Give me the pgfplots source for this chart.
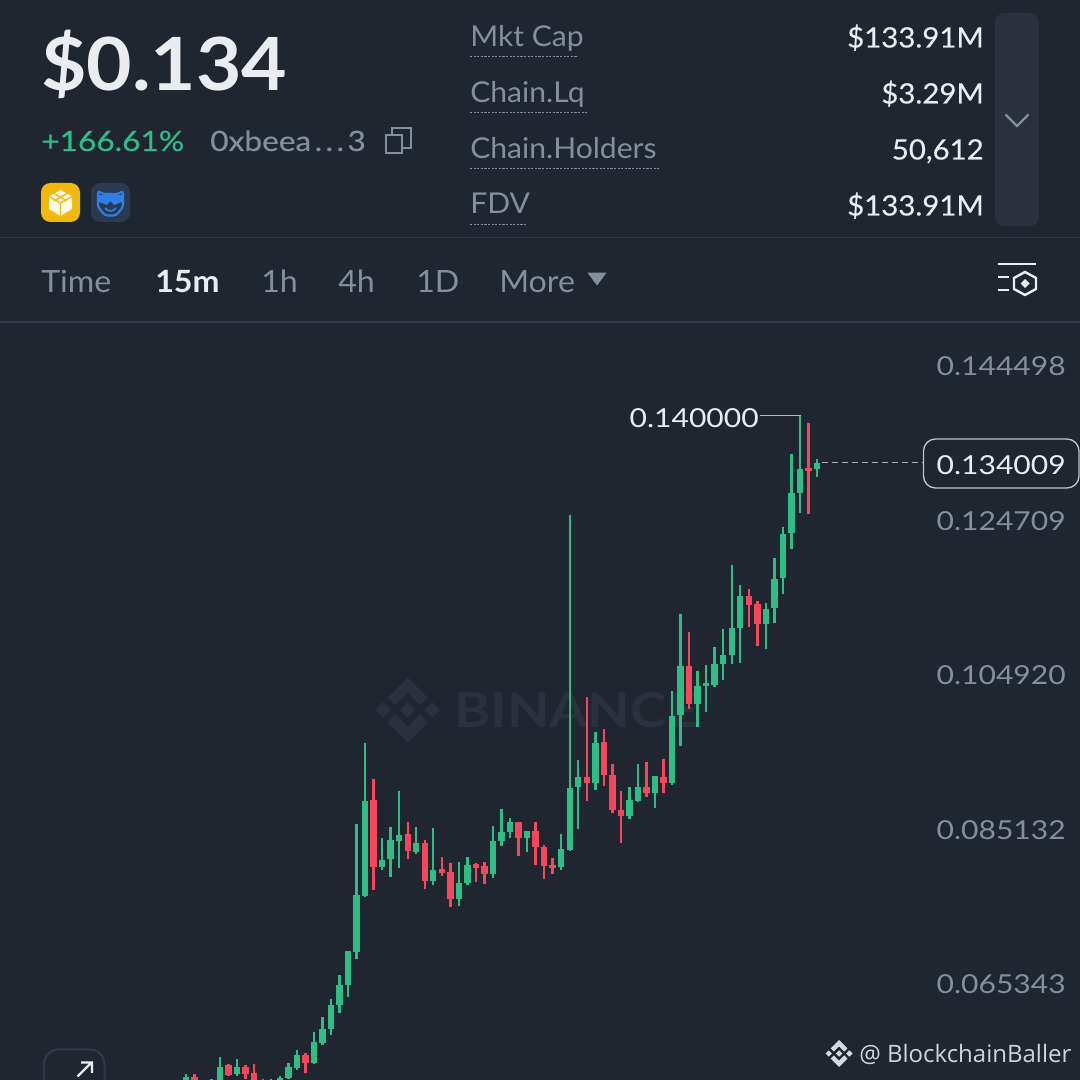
\documentclass[border=0pt]{standalone}
\usepackage{fontspec}
\usepackage{pgfplots}
\usepackage{pgfplotstable}
\pgfplotsset{compat=1.18}
\setmainfont{Lato}
\newfontfamily\wm{Open Sans}
\newfontfamily\st[FakeStretch=1.15]{Lato}
\newfontfamily\sn[FakeStretch=1.05]{Lato}
\newfontfamily\snm[FakeStretch=1.05,FakeBold=0.35]{Lato}
\newfontfamily\stm[FakeStretch=1.13,FakeBold=0.35]{Lato}
\newfontfamily\hd[FakeStretch=1.07]{Lato}
\definecolor{bg}{HTML}{1F2630}
\definecolor{up}{HTML}{2EBD85}
\definecolor{dn}{HTML}{F6465D}
\definecolor{txt}{HTML}{EAECEF}
\definecolor{gry}{HTML}{848E9C}
\definecolor{pill}{HTML}{2B313C}
\definecolor{div}{HTML}{333944}
\definecolor{bnb}{HTML}{F0B90B}
\definecolor{maskbg}{HTML}{2B3A50}
\definecolor{maskfg}{HTML}{2E7FE8}
\newcommand\fs[1]{\fontsize{#1}{#1}\selectfont}
% i high bodytop bodybottom low
\pgfplotstableread{
i h t b l
0 0.055722 0.055338 0.054697 0.054441
3 0.055082 0.054826 0.054441 0.054313
4 0.057938 0.056657 0.054697 0.054441
6 0.057643 0.056657 0.055722 0.055530
10 0.055082 0.054826 0.054441 0.054313
11 0.055466 0.055274 0.054569 0.054441
12 0.057131 0.056580 0.055210 0.055082
13 0.058796 0.058194 0.056452 0.056234
15 0.061101 0.059757 0.057169 0.057067
16 0.063061 0.061447 0.059654 0.059500
17 0.065290 0.064521 0.061447 0.060679
18 0.068364 0.067160 0.064521 0.063573
19 0.071476 0.071476 0.067160 0.065623
20 0.087742 0.078648 0.071386 0.070413
21 0.098078 0.090688 0.078559 0.078431
23 0.085911 0.083093 0.082235 0.081889
24 0.087396 0.085693 0.083259 0.080915
25 0.091969 0.086295 0.085526 0.082145
27 0.087358 0.085270 0.084194 0.083938
29 0.087191 0.081850 0.080442 0.079968
32 0.082913 0.080185 0.078098 0.077201
33 0.083477 0.082491 0.080185 0.079929
36 0.087524 0.085565 0.081377 0.080864
37 0.089702 0.086756 0.085565 0.084963
38 0.088511 0.087998 0.086679 0.085987
40 0.086884 0.086846 0.085949 0.084194
44 0.086461 0.084540 0.082273 0.081889
45 0.127319 0.092353 0.084450 0.084322
46 0.095978 0.093800 0.092443 0.087063
48 0.099564 0.098117 0.092993 0.092097
52 0.092417 0.090752 0.088741 0.088382
53 0.095363 0.092455 0.090714 0.090598
55 0.093928 0.093890 0.091674 0.089791
57 0.104738 0.101575 0.092955 0.092699
58 0.114677 0.107940 0.101664 0.097771
60 0.107377 0.105379 0.103150 0.100127
61 0.108068 0.105763 0.105417 0.102048
62 0.110374 0.108273 0.105584 0.105327
63 0.112718 0.109349 0.108273 0.106147
64 0.120915 0.112846 0.109388 0.108273
65 0.118315 0.116906 0.112846 0.108402
68 0.116009 0.115279 0.113358 0.110118
69 0.121850 0.119083 0.115369 0.113525
70 0.125782 0.124924 0.119211 0.117239
71 0.135093 0.130137 0.124975 0.122926
72 0.140000 0.133249 0.130098 0.127575
74 0.134453 0.134009 0.133249 0.132225
}\upt
\pgfplotstableread{
i h t b l
1 0.055722 0.055338 0.054697 0.054441
5 0.057003 0.056875 0.055594 0.055466
7 0.056875 0.056619 0.055722 0.055120
8 0.056964 0.055812 0.054569 0.054441
9 0.055018 0.054954 0.054441 0.054313
14 0.058373 0.058194 0.057093 0.055850
22 0.093467 0.090778 0.082235 0.079289
26 0.087960 0.086461 0.084220 0.083195
28 0.085731 0.085309 0.080442 0.079455
30 0.083477 0.081978 0.081505 0.081043
31 0.082785 0.081556 0.078098 0.077073
34 0.082709 0.082580 0.082145 0.080313
35 0.082875 0.082324 0.081377 0.080019
39 0.087960 0.087960 0.085949 0.083682
41 0.087998 0.086807 0.084796 0.082491
42 0.085052 0.084835 0.082363 0.080659
43 0.083426 0.082452 0.082068 0.081300
47 0.104047 0.093800 0.093032 0.090650
49 0.099871 0.098206 0.093980 0.092571
50 0.095388 0.093980 0.089497 0.089189
51 0.091930 0.089497 0.088728 0.085270
54 0.095683 0.092443 0.091674 0.091239
56 0.096029 0.093800 0.092955 0.091674
59 0.112372 0.107940 0.103150 0.102510
66 0.117802 0.116983 0.115830 0.112974
67 0.116265 0.115881 0.113320 0.110579
73 0.139064 0.133300 0.132993 0.127485
}\dnt
% draws the logo in px units
\newcommand\binlogo[4]{\begin{scope}[shift={(#1,#2)},x=#3*0.75pt,y=#3*0.75pt]
\fill[#4] (0,1)--(.62,.38)--(.38,.14)--(0,.52)--(-.38,.14)--(-.62,.38)--cycle;
\fill[#4] (0,-1)--(.62,-.38)--(.38,-.14)--(0,-.52)--(-.38,-.14)--(-.62,-.38)--cycle;
\fill[#4] (0,.24)--(.24,0)--(0,-.24)--(-.24,0)--cycle;
\fill[#4] (.76,.24)--(1,0)--(.76,-.24)--(.52,0)--cycle;
\fill[#4] (-.76,.24)--(-1,0)--(-.76,-.24)--(-.52,0)--cycle;
\end{scope}}
\begin{document}
\begin{tikzpicture}
\useasboundingbox (0,0) rectangle (810pt,810pt);
\clip (0,0) rectangle (810pt,810pt);
\fill[bg] (0,0) rectangle (810pt,810pt);
\begin{scope}[shift={(0pt,810pt)},x=0.75pt,y=-0.75pt]
\binlogo{407.7}{710}{32.3}{pill}
\node[anchor=base west,inner sep=0,text=pill,font=\st\bfseries\fs{36}] at (454,728) {BINANCE};
\end{scope}
\begin{axis}[at={(0,0)},anchor=south west,scale only axis,width=810pt,height=810pt,
 xmin=-21.81,xmax=104.84,ymin=0.054954,ymax=0.19328,
 axis line style={draw=none},major tick length=0pt,xtick=\empty,
 ytick={0.065343,0.085132,0.104920,0.124709,0.144498},
 yticklabels={0.065343,0.085132,0.104920,0.124709,0.144498},
 yticklabel pos=right,
 yticklabel style={anchor=base east,inner sep=0pt,xshift=-10.5pt,yshift=3.7pt,text=gry,font=\st\fs{19.6}},
 scaled y ticks=false,clip=true]
\pgfplotsset{
 wick/.style={draw=none,mark=none,forget plot,error bars/.cd,y dir=minus,y explicit,error mark=none,error bar style={line width=1.8pt,color=#1,line cap=butt}},
 body/.style={draw=none,mark=none,forget plot,error bars/.cd,y dir=minus,y explicit,error mark=none,error bar style={line width=4.8pt,color=#1,line cap=butt}}}
\addplot[gry!70!white,line width=1pt,dash pattern=on 4.5pt off 3pt] coordinates {(74.6,0.134009)(86.43,0.134009)};
\addplot[txt!75!bg,line width=1.1pt] coordinates {(67.3,0.14005)(72.1,0.14005)};
\addplot[wick=up] table[x=i,y=h,y error expr=\thisrow{h}-\thisrow{l}] {\upt};
\addplot[wick=dn] table[x=i,y=h,y error expr=\thisrow{h}-\thisrow{l}] {\dnt};
\addplot[body=up] table[x=i,y=t,y error expr=\thisrow{t}-\thisrow{b}] {\upt};
\addplot[body=dn] table[x=i,y=t,y error expr=\thisrow{t}-\thisrow{b}] {\dnt};
\end{axis}
\begin{scope}[shift={(0pt,810pt)},x=0.75pt,y=-0.75pt,every node/.style={inner sep=0pt}]
% price header
\node[anchor=base west,text=txt,font=\hd\bfseries\fs{55}] at (41,91) {\$0.134};
\node[anchor=base west,text=up,font=\stm\fs{21}] at (41,151) {+166.61\%};
\node[anchor=base west,text=gry,font=\stm\fs{21}] at (210,151) {0xbeea\hspace{2.6pt}.\hspace{2.6pt}.\hspace{2.6pt}.\hspace{2.6pt}3};
% copy icon
\draw[gry,line width=1.5pt] (386,135) rectangle (401.5,153);
\draw[gry,line width=1.5pt] (392,134) -- (392,128) -- (411,128) -- (411,148) -- (403,148);
% chain badges
\fill[rounded corners=7pt,fill=bnb] (41,183) rectangle (80,222);
\fill[white,opacity=.92] (60.5,190)--(72,196.5)--(72,209)--(60.5,216)--(49,209)--(49,196.5)--cycle;
\draw[bnb,line width=1pt] (49,196.5)--(60.5,203)--(72,196.5) (60.5,203)--(60.5,216) (54,193.5)--(67,201) (67,193.5)--(54,201);
\fill[rounded corners=7pt,fill=maskbg] (91,183) rectangle (130,222);
\draw[maskfg,line width=1.6pt,rounded corners=2pt] (98,191)--(103,194)--(118,194)--(123,191)--(123,207)--(116,215.5)--(105,215.5)--(98,207)--cycle;
\fill[maskfg] (98,195)--(123,195)--(122,202)--(114,205)--(110.5,201)--(107,205)--(99,202)--cycle;
\draw[maskfg,line width=1.2pt] (105,208) .. controls (108,212) and (113,212) .. (116,208);
% stats
\foreach \t/\yb/\yl/\xe in {Mkt Cap/47/56.7/578,Chain.Lq/103/112.7/588,Chain.Holders/159/168.7/659,FDV/214/224.7/527}{
 \node[anchor=base west,text=gry,font=\sn\fs{21.5}] at (470,\yb) {\t};
 \draw[gry,line width=0.75pt,dash pattern=on 1.6pt off 1.1pt] (470,\yl) -- (\xe,\yl);
}
\foreach \t/\yb in {\$133.91M/47.5,\$3.29M/103.5,{50,612}/159.5,\$133.91M/215.5}{
 \node[anchor=base east,text=txt,font=\snm\fs{21}] at (984,\yb) {\t};
}
\fill[pill,rounded corners=7pt] (995,13) rectangle (1039,226);
\draw[gry,line width=1.7pt] (1005.5,114.5)--(1017,126)--(1028.5,114.5);
\draw[div,line width=0.9pt] (0,237.5)--(1080,237.5);
\draw[div,line width=1.1pt] (0,322)--(1080,322);
% period bar
\node[anchor=base west,text=gry,font=\sn\fs{23}] at (41,293) {Time};
\node[anchor=base west,text=txt,font=\sn\bfseries\fs{23}] at (155,293) {15m};
\node[anchor=base west,text=gry,font=\sn\fs{23}] at (261,293) {1h};
\node[anchor=base west,text=gry,font=\sn\fs{23}] at (338,293) {4h};
\node[anchor=base west,text=gry,font=\sn\fs{23}] at (416,293) {1D};
\node[anchor=base west,text=gry,font=\sn\fs{23}] at (499,293) {More};
\fill[gry] (587.5,272.7)--(606.5,272.7)--(597,285.5)--cycle;
% settings icon
\draw[txt,line width=1.9pt] (998,264)--(1036,264);
\draw[txt,line width=1.9pt] (998,277)--(1009,277) (998,290)--(1009,290);
\draw[txt,line width=1.8pt] (1025,272)--(1036,278)--(1036,289)--(1025,295)--(1014,289)--(1014,278)--cycle;
\fill[txt] (1025,279)--(1029.5,283.5)--(1025,288)--(1020.5,283.5)--cycle;
% price labels
\node[anchor=base east,text=txt,font=\st\fs{19.6}] at (759,428) {0.140000};
\draw[txt!80!bg,line width=1pt,fill=bg,rounded corners=9pt] (923.5,439) rectangle (1079,488);
\node[anchor=base east,text=txt,font=\st\fs{19.6}] at (1066,475) {0.134009};
% expand box
\draw[div,line width=1.5pt,rounded corners=11pt] (44,1100)--(44,1049.5)--(104.5,1049.5)--(104.5,1100);
\draw[txt,line width=1.7pt] (77.5,1076.5)--(91,1063) (81,1062.5)--(92,1062.5)--(92,1073);
% credit
\binlogo{839}{1053.5}{13.5}{txt!80!gry}
\node[anchor=base west,text=txt!75!gry,font=\wm\fs{18}] at (859,1063) {@ BlockchainBaller};
\end{scope}
\end{tikzpicture}
\end{document}
